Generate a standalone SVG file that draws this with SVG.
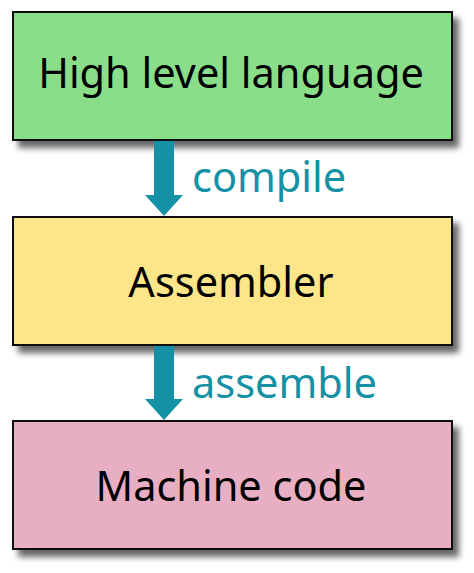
<svg xmlns="http://www.w3.org/2000/svg" width="474" height="573" viewBox="0 0 474 573">
<defs>
<filter id="sh" x="-10%" y="-10%" width="130%" height="140%">
<feGaussianBlur in="SourceAlpha" stdDeviation="3"/>
<feOffset dx="6" dy="7" result="b"/>
<feComponentTransfer><feFuncA type="linear" slope="0.6"/></feComponentTransfer>
<feMerge><feMergeNode/><feMergeNode in="SourceGraphic"/></feMerge>
</filter>
</defs>
<style>
.box{stroke:#111;stroke-width:2;filter:url(#sh)}
.t{font-family:"Noto Sans",sans-serif;font-size:41.5px;fill:#000;text-anchor:middle}
.lbl{font-family:"Noto Sans",sans-serif;font-size:41.5px;fill:#1591a5}
.con{stroke:#1591a5;stroke-width:20;fill:none}
.head{fill:#1591a5}
</style>
<rect width="474" height="573" fill="#fff"/>
<g id="high">
<rect class="box" x="13" y="12" width="439" height="128" fill="#8ade8a"/>
<text class="t" x="231" y="88">High level language</text>
</g>
<g id="asm">
<rect class="box" x="13" y="217" width="439" height="128" fill="#fde68a"/>
<text class="t" x="231" y="297">Assembler</text>
</g>
<g id="mc">
<rect class="box" x="13" y="421" width="439" height="128" fill="#e8aec4"/>
<text class="t" x="231" y="501">Machine code</text>
</g>
<g id="connectors">
<line class="con" x1="164" y1="141" x2="164" y2="196"/>
<path class="head" d="M145,195 L183,195 L164,216 Z"/>
<text class="lbl" x="192" y="192">compile</text>
<line class="con" x1="164" y1="346" x2="164" y2="400"/>
<path class="head" d="M145,399 L183,399 L164,420 Z"/>
<text class="lbl" x="192" y="398">assemble</text>
</g>
</svg>
